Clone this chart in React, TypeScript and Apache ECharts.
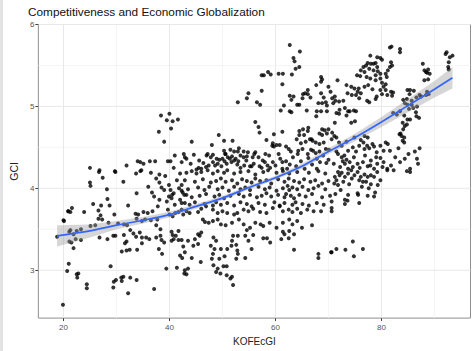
import React, { useEffect, useRef } from "react";
import * as echarts from "echarts";

const TITLE = "Competitiveness and Economic Globalization";
const X_NAME = "KOFEcGI";
const Y_NAME = "GCI";
const X_MIN = 15.26;
const X_MAX = 96.8;
const Y_MIN = 2.416;
const Y_MAX = 6.0;
const X_TICKS = [20, 40, 60, 80];
const X_MINOR = [30, 50, 70, 90];
const Y_TICKS = [3, 4, 5, 6];
const Y_MINOR = [3.5, 4.5, 5.5];

// fitted smooth curve and its confidence half-width
const FIT_X = [18.8, 25, 30, 35, 40, 45, 50, 55, 60, 65, 70, 75, 80, 85, 90, 93.4];
const FIT_Y = [3.42, 3.48, 3.55, 3.61, 3.68, 3.78, 3.88, 4.01, 4.13, 4.27, 4.45, 4.62, 4.81, 5.01, 5.21, 5.35];
const FIT_SE = [0.13, 0.08, 0.05, 0.04, 0.035, 0.03, 0.025, 0.025, 0.025, 0.03, 0.035, 0.045, 0.06, 0.08, 0.1, 0.13];

const upperLeft: [number, number][] = [
  [38.4,4.89],[40.0,4.91],[39.5,4.83],[40.6,4.82],[41.6,4.84],[40.3,4.73],[38.0,4.69],[39.0,4.57],[41.0,4.40],[42.7,4.42],
  [25.0,4.25],[26.8,4.22],[29.7,4.21],[31.9,4.28],[34.0,4.33],[34.5,4.32],[35.1,4.30],[36.3,4.33],[37.3,4.33],[39.7,4.33],
  [40.2,4.33],[34.7,4.22],[40.8,4.25],[42.3,4.32],
];

const upperMid: [number, number][] = [
  [62.7,5.75],[64.6,5.67],[63.4,5.59],[63.6,5.55],[64.5,5.48],[63.8,5.46],[63.1,5.39],[57.4,5.38],[57.8,5.38],[58.6,5.42],
  [59.1,5.39],[60.6,5.40],[61.4,5.40],[61.3,5.27],[68.6,5.36],[68.8,5.33],[68.6,5.30],[67.7,5.26],[70.0,5.24],[70.4,5.18],
  [57.4,5.19],[54.9,5.16],[54.6,5.10],[52.9,5.05],[56.5,5.05],[57.1,5.02],[62.7,5.13],[63.4,5.12],[63.0,5.08],[64.1,5.02],
  [64.5,5.02],[61.6,5.01],[61.0,4.95],[62.7,4.94],[63.0,4.93],[65.2,5.15],[66.1,5.20],[65.6,5.16],[66.1,5.15],[65.1,5.10],
  [66.6,5.11],[68.6,5.16],[69.1,5.11],[68.1,5.04],[68.8,5.04],[69.5,5.05],[69.7,5.01],[65.9,4.95],[67.8,4.94],[68.6,4.94],
  [69.7,4.94],[67.7,4.88],[56.2,4.81],[56.8,4.75],[57.0,4.68],[61.3,4.69],[59.7,4.66],[59.5,4.55],[58.3,4.59],[62.0,4.51],
  [64.5,4.70],[65.2,4.72],[66.2,4.74],[66.1,4.70],[65.4,4.65],[64.5,4.65],[64.0,4.60],[66.5,4.60],[66.8,4.60],[64.8,4.55],
  [65.7,4.57],[67.0,4.58],[68.8,4.72],[69.3,4.71],[70.0,4.72],[68.3,4.67],[68.8,4.65],[69.7,4.67],[67.6,4.56],[68.3,4.54],
  [69.1,4.56],[64.3,4.46],[65.1,4.48],[66.7,4.47],[67.1,4.46],[66.1,4.42],[67.6,4.43],[68.3,4.45],[69.5,4.48],[70.1,4.47],
  [62.5,4.48],[60.6,4.42],[58.1,4.42],[56.2,4.44],[54.8,4.44],[54.0,4.45],[53.1,4.49],[51.9,4.58],[50.3,4.58],[49.3,4.65],
  [44.2,4.57],[48.0,4.53],[44.6,4.41],[47.2,4.42],[48.2,4.41],[47.8,4.38],[50.3,4.46],[50.6,4.42],[49.4,4.35],[51.5,4.47],
  [52.2,4.45],[51.0,4.38],[51.4,4.36],[51.8,4.39],[52.2,4.34],[51.7,4.32],[52.5,4.36],[50.0,4.36],[50.4,4.33],[50.8,4.30],
  [53.4,4.40],[54.0,4.38],[54.6,4.39],[55.7,4.38],[56.0,4.42],[42.9,4.38],[43.2,4.36],[46.9,4.26],[47.4,4.28],[45.5,4.25],
  [46.0,4.24],[45.1,4.23],[48.2,4.32],[48.6,4.28],[49.1,4.30],[49.8,4.27],[52.8,4.29],[53.4,4.25],[54.1,4.28],[55.2,4.27],
  [55.5,4.27],[57.6,4.34],[58.0,4.32],[57.0,4.27],[57.4,4.25],[59.0,4.25],[59.5,4.32],[61.3,4.32],[61.3,4.24],[62.7,4.29],
  [62.2,4.24],[62.0,4.33],[67.8,4.36],[68.4,4.32],[67.8,4.24],[69.6,4.31],[70.0,4.35],[59.4,4.52],[59.7,4.51],[60.2,4.53],
  [60.8,4.53],
];

const upperRight: [number, number][] = [
  [81.9,5.73],[81.6,5.72],[83.5,5.70],[83.5,5.66],[92.3,5.66],[92.1,5.64],[92.9,5.60],[93.4,5.62],[92.7,5.54],[92.6,5.48],
  [92.7,5.45],[77.9,5.62],[79.2,5.60],[79.8,5.59],[80.1,5.57],[76.6,5.48],[77.1,5.50],[77.4,5.53],[78.0,5.52],[78.5,5.52],
  [78.9,5.53],[79.2,5.48],[76.1,5.44],[76.8,5.42],[77.7,5.46],[78.5,5.44],[79.3,5.43],[79.8,5.40],[80.8,5.40],[75.4,5.38],
  [76.0,5.37],[77.2,5.36],[78.9,5.38],[81.0,5.36],[81.8,5.54],[82.0,5.50],[81.6,5.48],[81.2,5.44],[77.9,5.34],[78.9,5.32],
  [79.8,5.34],[71.7,5.32],[80.1,5.29],[80.4,5.24],[80.8,5.27],[87.8,5.52],[88.1,5.44],[88.6,5.41],[88.8,5.45],[89.1,5.40],
  [88.1,5.32],[88.8,5.33],[88.4,5.42],[73.4,5.26],[74.3,5.24],[74.9,5.22],[75.7,5.22],[75.5,5.18],[76.8,5.24],[77.5,5.26],
  [78.3,5.21],[73.6,5.16],[74.4,5.14],[75.2,5.14],[76.1,5.16],[75.8,5.10],[77.3,5.07],[77.7,5.05],[79.8,5.20],[80.1,5.15],
  [80.8,5.20],[81.1,5.14],[81.8,5.18],[82.0,5.13],[82.2,5.17],[78.9,5.09],[79.1,5.12],[71.2,5.12],[70.9,5.04],[71.3,5.07],
  [70.7,5.10],[72.0,5.06],[72.8,5.07],[72.1,4.96],[73.1,4.98],[73.7,4.94],[73.4,4.89],[71.5,4.92],[72.0,4.91],[74.3,4.80],
  [75.0,4.82],[74.0,4.94],[74.8,4.95],[75.2,4.94],[84.9,5.20],[85.4,5.20],[86.1,5.19],[85.3,5.15],[84.1,5.08],[84.8,5.09],
  [85.7,5.07],[86.6,5.11],[87.2,5.14],[87.5,5.12],[88.6,5.18],[88.9,5.15],[88.4,5.14],[85.7,5.02],[86.0,4.98],[86.7,5.00],
  [84.9,5.02],[84.4,5.04],[85.2,4.97],[83.5,4.94],[82.9,4.90],[84.3,4.89],[82.2,4.92],[86.5,4.93],[86.6,4.88],[87.1,4.86],
  [85.4,4.84],[84.9,4.84],[71.2,4.80],[70.7,4.68],[71.1,4.64],[70.6,4.60],[71.5,4.62],[72.0,4.56],[72.5,4.52],[73.4,4.57],
  [74.9,4.62],[76.8,4.64],[77.4,4.62],[74.6,4.50],[73.7,4.46],[76.1,4.59],[76.6,4.56],[75.8,4.52],[77.3,4.52],[77.7,4.49],
  [76.8,4.48],[78.3,4.54],[78.6,4.51],[79.1,4.44],[79.8,4.52],[80.8,4.56],[81.2,4.54],[80.4,4.46],[81.6,4.46],[83.2,4.49],
  [84.0,4.80],[84.4,4.76],[84.8,4.78],[84.1,4.72],[83.6,4.67],[83.8,4.64],[84.3,4.62],[84.0,4.58],[83.4,4.66],[84.3,4.56],
  [87.2,4.49],[82.6,4.38],[83.5,4.32],[84.4,4.36],[85.1,4.42],[86.3,4.45],[86.7,4.36],[86.9,4.30],[85.4,4.24],[71.8,4.42],
  [72.5,4.38],[73.4,4.35],[73.1,4.30],[74.0,4.32],[73.7,4.24],[74.6,4.26],[75.5,4.30],[76.5,4.32],[77.4,4.27],[78.0,4.34],
  [78.6,4.24],[79.2,4.30],[79.8,4.37],[80.4,4.32],[81.1,4.24],[81.8,4.28],[82.3,4.22],[74.3,4.22],
];

const lowerRight: [number, number][] = [
  [71.8,4.20],[72.5,4.19],[73.1,4.14],[72.8,4.08],[71.5,4.10],[71.2,4.14],[72.1,4.16],[71.1,4.06],[71.8,4.04],[73.7,4.18],
  [74.9,4.16],[75.5,4.20],[76.1,4.14],[76.8,4.17],[77.4,4.14],[78.0,4.16],[78.6,4.14],[77.1,4.08],[78.0,4.05],[76.5,4.08],
  [75.8,4.10],[79.2,4.20],[79.8,4.10],[81.1,4.22],[84.8,4.21],[85.4,4.20],[73.7,3.92],[75.5,3.94],[75.6,3.92],[77.4,3.91],
  [78.6,3.90],[75.8,3.82],[73.1,3.86],[73.6,3.85],[73.1,3.81],[70.6,3.84],[70.6,3.76],[70.6,3.72],[74.6,3.35],[76.5,3.26],
  [74.8,3.17],[73.2,3.25],[71.5,3.26],[70.6,3.22],
];

const lowerMid: [number, number][] = [
  [43.2,3.72],[43.8,3.70],[45.4,3.71],[46.0,3.75],[46.9,3.78],[48.2,3.74],[49.1,3.70],[50.0,3.72],[50.9,3.70],[52.2,3.68],
  [52.8,3.70],[54.0,3.74],[54.9,3.72],[55.8,3.75],[57.1,3.71],[58.3,3.70],[59.5,3.76],[60.8,3.78],[61.4,3.72],[62.5,3.74],
  [63.2,3.71],[64.1,3.75],[64.8,3.70],[66.0,3.74],[67.2,3.72],[68.6,3.72],[46.3,3.62],[46.7,3.59],[47.4,3.58],[48.2,3.60],
  [49.1,3.62],[49.7,3.56],[50.6,3.55],[51.8,3.58],[53.1,3.62],[54.0,3.56],[54.6,3.49],[55.2,3.52],[56.2,3.58],[57.2,3.56],
  [57.7,3.54],[58.9,3.58],[60.2,3.52],[61.4,3.58],[62.6,3.62],[63.2,3.56],[64.1,3.60],[65.0,3.52],[66.9,3.55],[43.5,3.36],
  [44.8,3.38],[45.4,3.44],[46.0,3.46],[44.5,3.30],[45.7,3.42],[45.4,3.32],[48.3,3.40],[48.8,3.36],[48.5,3.26],[48.2,3.20],
  [47.8,3.30],[49.7,3.26],[49.4,3.14],[50.4,3.17],[50.9,3.26],[51.7,3.30],[51.8,3.36],[52.6,3.31],[52.8,3.24],[52.9,3.42],
  [52.0,3.42],[54.3,3.42],[54.9,3.36],[55.5,3.26],[55.8,3.43],[57.7,3.39],[58.4,3.39],[59.0,3.34],[61.4,3.47],[61.1,3.38],
  [61.7,3.44],[62.6,3.48],[63.5,3.44],[62.5,3.39],[63.5,3.25],[42.9,3.22],[44.2,3.15],[45.9,3.10],[48.0,3.14],[48.3,3.06],
  [49.1,3.02],[48.8,2.98],[49.6,2.96],[50.2,3.05],[50.8,3.05],[50.8,2.94],[51.5,2.90],[51.8,2.92],[52.0,2.82],[52.9,3.20],
  [52.6,3.14],[54.3,3.15],[42.9,3.00],[43.5,3.02],[43.2,2.95],[68.1,3.20],[68.1,3.15],[70.5,3.22],
];

const lowerLeft: [number, number][] = [
  [26.7,4.20],[29.8,4.20],[33.7,4.18],[34.5,4.21],[36.5,4.19],[38.1,4.17],[27.4,4.13],[25.0,4.07],[25.1,4.03],[31.3,4.08],
  [28.2,3.99],[33.8,3.94],[36.7,3.95],[37.1,3.90],[38.1,4.07],[38.5,4.01],[39.0,3.98],[39.9,4.04],[40.2,3.98],[40.5,3.92],
  [39.9,3.90],[40.4,3.88],[40.8,3.94],[42.3,4.04],[42.3,3.97],[42.8,3.92],[42.0,3.86],[42.3,3.82],[38.1,3.86],[21.3,3.71],
  [20.9,3.72],[21.6,3.76],[20.1,3.60],[23.9,3.71],[25.6,3.81],[26.6,3.73],[27.0,3.67],[26.6,3.63],[27.3,3.62],[27.1,3.79],
  [28.3,3.87],[28.7,3.79],[29.6,3.68],[25.1,3.54],[26.0,3.55],[28.5,3.58],[30.3,3.57],[31.4,3.56],[32.0,3.55],[32.2,3.79],
  [33.6,3.69],[34.1,3.68],[35.1,3.71],[35.9,3.70],[36.8,3.72],[33.8,3.63],[34.8,3.60],[35.4,3.62],[36.5,3.61],[37.7,3.62],
  [37.5,3.55],[38.3,3.50],[39.7,3.74],[40.0,3.68],[40.6,3.66],[41.1,3.70],[41.7,3.71],[42.3,3.74],[42.6,3.68],[21.3,3.49],
  [21.1,3.47],[21.9,3.44],[22.5,3.48],[23.3,3.50],[18.8,3.41],[21.1,3.35],[21.5,3.34],[21.9,3.27],[22.3,3.38],[23.3,3.37],
  [26.8,3.40],[28.3,3.38],[29.4,3.42],[29.8,3.42],[31.4,3.43],[31.6,3.33],[31.9,3.35],[32.6,3.49],[33.2,3.45],[33.7,3.41],
  [34.4,3.46],[34.8,3.40],[35.6,3.40],[31.0,3.23],[31.9,3.24],[32.5,3.25],[33.9,3.25],[34.8,3.33],[36.2,3.38],[37.5,3.40],
  [38.3,3.42],[38.5,3.37],[39.0,3.34],[38.0,3.26],[38.6,3.20],[40.4,3.47],[40.6,3.43],[40.8,3.38],[40.4,3.36],[41.2,3.42],
  [41.7,3.37],[42.3,3.37],[41.7,3.48],[42.6,3.29],[42.0,3.18],[42.4,3.15],[39.4,3.02],[41.4,3.03],[42.8,2.96],[21.0,3.08],
  [20.7,2.99],[22.5,2.95],[22.8,2.96],[22.6,2.91],[24.4,2.83],[24.4,2.78],[28.9,3.05],[29.5,2.86],[29.9,2.88],[29.4,2.79],
  [30.9,2.91],[31.3,2.92],[31.0,2.87],[32.6,2.91],[33.8,2.88],[32.2,2.72],[37.1,2.77],[19.9,2.58],[20.0,3.61],[20.9,3.72],
  [36.0,4.02],[37.5,4.12],[39.2,4.15],[41.4,4.10],[42.0,4.18],[41.0,3.80],[39.5,3.84],[37.8,3.78],[42.5,3.95],[41.8,4.00],
];

const denseCore: [number, number][] = [
  [43.2,4.19],[44.2,4.21],[45.1,4.18],[46.0,4.20],[47.2,4.22],[48.2,4.18],[49.1,4.21],[50.3,4.19],[50.9,4.22],[52.2,4.18],
  [53.4,4.20],[54.9,4.21],[56.2,4.17],[57.7,4.20],[58.6,4.22],[60.2,4.19],[61.4,4.21],[62.6,4.18],[64.1,4.20],[66.3,4.19],
  [68.1,4.21],[69.4,4.18],
  [42.9,4.10],[44.8,4.08],[46.3,4.11],[47.8,4.07],[48.8,4.09],[49.7,4.12],[50.6,4.08],[51.8,4.10],[52.8,4.06],[53.7,4.11],
  [54.6,4.09],[55.5,4.07],[56.2,4.12],[57.1,4.09],[58.3,4.10],[59.2,4.06],[60.5,4.11],[61.7,4.08],[62.5,4.12],[63.5,4.09],
  [64.5,4.07],[65.4,4.11],[66.6,4.08],[67.5,4.10],[68.8,4.06],[70.0,4.09],
  [43.5,3.99],[45.4,4.01],[46.6,3.98],[47.5,4.02],[49.1,3.99],[50.0,4.01],[51.2,3.97],[52.2,4.02],[53.4,3.99],[54.3,4.01],
  [55.2,3.98],[56.8,4.02],[58.0,3.99],[58.9,4.01],[60.2,3.97],[61.4,4.00],[62.3,4.03],[62.6,3.98],[63.2,4.01],[64.1,3.99],
  [65.1,4.02],[66.2,3.98],[67.2,4.00],[68.1,4.03],[69.4,3.99],
  [43.2,3.92],[44.2,3.89],[45.7,3.91],[46.9,3.93],[48.5,3.90],[49.4,3.92],[50.3,3.88],[51.5,3.91],[53.1,3.93],[54.0,3.90],
  [55.2,3.92],[56.5,3.89],[57.4,3.91],[58.3,3.94],[59.2,3.90],[60.5,3.92],[61.7,3.89],[62.0,3.93],[62.9,3.91],[63.5,3.88],
  [64.5,3.92],[65.7,3.90],[66.9,3.93],[68.8,3.89],[70.3,3.91],
  [42.9,3.82],[43.8,3.80],[44.8,3.83],[46.6,3.81],[48.2,3.79],[48.8,3.83],[49.7,3.80],[50.9,3.82],[52.2,3.79],[53.4,3.83],
  [54.6,3.81],[55.5,3.78],[56.8,3.82],[58.0,3.80],[59.8,3.83],[60.8,3.79],[61.7,3.82],[63.2,3.80],[63.8,3.83],[65.1,3.81],
  [66.3,3.79],[67.8,3.82],[69.1,3.80],
  [44.0,4.30],[45.6,4.34],[47.0,4.40],[48.9,4.36],[50.5,4.42],[52.9,4.45],[54.5,4.34],[55.9,4.30],[56.8,4.38],[58.8,4.40],
  [60.0,4.28],[60.9,4.36],[63.3,4.38],[63.9,4.27],[64.8,4.33],[65.5,4.24],[66.2,4.37],[66.9,4.29],[69.0,4.40],[64.2,4.42],
  [62.9,4.45],[58.5,4.28],[53.0,4.33],[46.4,4.31],
  [71.0,4.30],[72.2,4.26],[73.0,4.40],[74.8,4.38],[75.9,4.25],[76.9,4.40],[77.9,4.28],[79.0,4.38],[80.2,4.26],[71.5,4.45],
  [72.7,4.33],[75.2,4.45],[73.9,4.05],[74.4,4.12],[76.3,4.02],[77.6,4.00],[79.3,4.04],[72.3,3.98],[71.3,3.93],[78.8,3.95],
];

const ALL_POINTS = [...upperLeft, ...upperMid, ...upperRight, ...lowerRight, ...lowerMid, ...lowerLeft, ...denseCore];

const FONT = "'Liberation Sans', Arial, sans-serif";

export default function App() {
  const ref = useRef<HTMLDivElement>(null);
  useEffect(() => {
    if (!ref.current) return;
    const chart = echarts.init(ref.current, undefined, { renderer: "svg" });
    const gridDefs: number[][] = [
      ...X_MINOR.map((v) => [v, 0, 0]),
      ...Y_MINOR.map((v) => [v, 1, 0]),
      ...X_TICKS.map((v) => [v, 0, 1]),
      ...Y_TICKS.map((v) => [v, 1, 1]),
    ];
    chart.setOption({
      animation: false,
      backgroundColor: "#ffffff",
      title: {
        text: TITLE,
        left: 28,
        top: 5,
        padding: 0,
        textStyle: { fontFamily: FONT, fontSize: 11.8, fontWeight: "normal", color: "#111", lineHeight: 14 },
      },
      graphic: [
        { type: "rect", left: 0, top: 0, shape: { width: 3, height: 351 }, style: { fill: "#e3e3e3" } },
      ],
      grid: {
        left: 28,
        right: 3.5,
        top: 24.5,
        bottom: 29,
        show: true,
        borderColor: "#8f8f8f",
        borderWidth: 1,
        backgroundColor: "#ffffff",
      },
      xAxis: {
        type: "value",
        min: X_MIN,
        max: X_MAX,
        name: X_NAME,
        nameLocation: "middle",
        nameGap: 17,
        nameTextStyle: { fontFamily: FONT, fontSize: 10, color: "#222" },
        axisLine: { show: false },
        splitLine: { show: false },
        axisTick: { show: true, length: 3, customValues: X_TICKS, lineStyle: { color: "#444" } },
        axisLabel: { customValues: X_TICKS, fontFamily: FONT, fontSize: 8, color: "#555", margin: 5 },
      },
      yAxis: {
        type: "value",
        min: Y_MIN,
        max: Y_MAX,
        name: Y_NAME,
        nameLocation: "middle",
        nameGap: 15,
        nameRotate: 90,
        nameTextStyle: { fontFamily: FONT, fontSize: 10.5, color: "#222" },
        axisLine: { show: false },
        splitLine: { show: false },
        axisTick: { show: true, length: 3, customValues: Y_TICKS, lineStyle: { color: "#444" } },
        axisLabel: { customValues: Y_TICKS, fontFamily: FONT, fontSize: 8, color: "#555", margin: 4, showMaxLabel: true },
      },
      series: [
        {
          type: "custom",
          silent: true,
          z: 0,
          data: gridDefs,
          renderItem: (params: any, api: any) => {
            const cs = params.coordSys;
            const v = api.value(0);
            const isY = api.value(1);
            const major = api.value(2);
            let shape;
            if (!isY) {
              const p = api.coord([v, (Y_MIN + Y_MAX) / 2]);
              shape = { x1: p[0], y1: cs.y, x2: p[0], y2: cs.y + cs.height };
            } else {
              const p = api.coord([(X_MIN + X_MAX) / 2, v]);
              shape = { x1: cs.x, y1: p[1], x2: cs.x + cs.width, y2: p[1] };
            }
            return {
              type: "line",
              shape,
              style: { stroke: major ? "#e8e8e8" : "#f3f3f3", lineWidth: major ? 1 : 0.8 },
            };
          },
        },
        {
          type: "scatter",
          data: ALL_POINTS,
          symbolSize: 4,
          itemStyle: { color: "#000000" },
          z: 2,
          silent: true,
        },
        {
          type: "custom",
          silent: true,
          z: 3,
          data: [0],
          renderItem: (_params: any, api: any) => {
            const upper = FIT_X.map((x, i) => api.coord([x, FIT_Y[i] + FIT_SE[i]]));
            const lower = FIT_X.map((x, i) => api.coord([x, FIT_Y[i] - FIT_SE[i]])).reverse();
            return {
              type: "polygon",
              shape: { points: upper.concat(lower) },
              style: { fill: "rgba(153,153,153,0.4)" },
            };
          },
        },
        {
          type: "line",
          data: FIT_X.map((x, i) => [x, FIT_Y[i]]),
          smooth: 0.3,
          showSymbol: false,
          z: 4,
          silent: true,
          lineStyle: { color: "#3366FF", width: 1.7 },
        },
      ],
    });
    return () => chart.dispose();
  }, []);
  return (
    <div
      ref={ref}
      style={{ position: "absolute", left: 0, top: 0, width: 474, height: 351, background: "#fff" }}
    />
  );
}
